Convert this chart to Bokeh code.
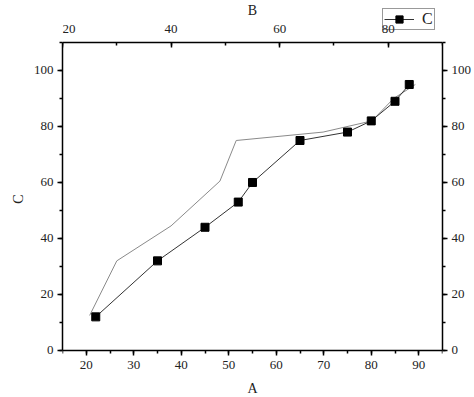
from bokeh.plotting import figure
from bokeh.models import (Range1d, LinearAxis, SingleIntervalTicker, Legend, LegendItem)
from bokeh.embed import file_html
from bokeh.resources import INLINE

# Series C vs A (bottom axis), with square markers
A = [22, 35, 45, 52, 55, 65, 75, 80, 85, 88]
C = [12, 32, 44, 53, 60, 75, 78, 82, 89, 95]

# Series C vs B (top axis), plain gray line
B = [25, 30, 40, 49, 52, 68, 77, 81, 85]
C_B = [12.5, 32, 44.5, 60.5, 75, 78, 82, 90, 95]

A_MIN, A_MAX = 15, 95
B_MIN, B_MAX = 20, 90
C_MIN, C_MAX = 0, 110
# visible C span, larger than the axis box so the outer axes' texts and the legend fit in it
C_VIEW_LO, C_VIEW_HI = -16.8, 125

FONT = "Liberation Serif"

p = figure(width=474, height=397, output_backend="svg", toolbar_location=None,
           x_range=Range1d(A_MIN, A_MAX), y_range=Range1d(C_VIEW_LO, C_VIEW_HI),
           min_border_left=62, min_border_right=28, min_border_top=0, min_border_bottom=0)
p.extra_x_ranges = {"B": Range1d(B_MIN, B_MAX)}
p.xgrid.visible = False
p.ygrid.visible = False
p.outline_line_color = None
p.background_fill_color = "white"
p.border_fill_color = "white"

def style(ax, tin=0, tout=5, minin=0, minout=3):
    ax.axis_line_color = "black"
    ax.axis_line_width = 1.5
    ax.major_tick_line_color = "black"
    ax.major_tick_line_width = 1.5
    ax.minor_tick_line_color = "black"
    ax.minor_tick_line_width = 1.5
    ax.major_tick_in = tin
    ax.major_tick_out = tout
    ax.minor_tick_in = minin
    ax.minor_tick_out = minout
    ax.major_label_text_font = FONT
    ax.major_label_text_font_size = "13px"
    ax.major_label_text_color = "#222222"
    ax.axis_label_text_font = FONT
    ax.axis_label_text_font_size = "14px"
    ax.axis_label_text_font_style = "normal"
    ax.axis_label_text_color = "#222222"
    ax.major_label_standoff = 4
    ax.axis_label_standoff = 5

# bottom axis A, drawn at C = C_MIN
xa = p.xaxis[0]
xa.ticker = SingleIntervalTicker(interval=10, num_minor_ticks=2)
xa.axis_label = "A"
xa.fixed_location = C_MIN
xa.bounds = (A_MIN, A_MAX)
style(xa)
xa.major_label_standoff = 6
xa.axis_label_standoff = 8

# left axis C
ya = p.yaxis[0]
ya.ticker = SingleIntervalTicker(interval=20, num_minor_ticks=2)
ya.axis_label = "C"
ya.bounds = (C_MIN, C_MAX)
style(ya)

# top axis B, drawn at C = C_MAX
top = LinearAxis(x_range_name="B", ticker=SingleIntervalTicker(interval=20, num_minor_ticks=2),
                 axis_label="B", fixed_location=C_MAX, bounds=(B_MIN, B_MAX))
style(top, tin=5, tout=0, minin=3, minout=0)
top.major_label_standoff = 6
top.axis_label_standoff = 1
top.major_label_overrides = {20: "\u2002\u200220"}
p.add_layout(top, "above")

# right axis
right = LinearAxis(ticker=SingleIntervalTicker(interval=20, num_minor_ticks=2), bounds=(C_MIN, C_MAX))
style(right)
p.add_layout(right, "right")

# gray line (B)
p.line(B, C_B, x_range_name="B", line_color="#8a8a8a", line_width=1)

# marker series
l = p.line(A, C, line_color="#333333", line_width=1)
s = p.scatter(A, C, marker="square", size=8, fill_color="black", line_color="black")

legend = Legend(items=[LegendItem(label="C", renderers=[l, s])],
                location=(320, 367), orientation="vertical",
                label_text_font=FONT, label_text_font_size="16px",
                label_text_color="#222222",
                glyph_width=30, glyph_height=18, label_height=18, label_width=10,
                padding=1, margin=0,
                label_standoff=8, spacing=0,
                border_line_color="#333333", border_line_width=1,
                background_fill_alpha=0.0)
p.add_layout(legend, "center")

open("out.html", "w").write(file_html(p, INLINE))
